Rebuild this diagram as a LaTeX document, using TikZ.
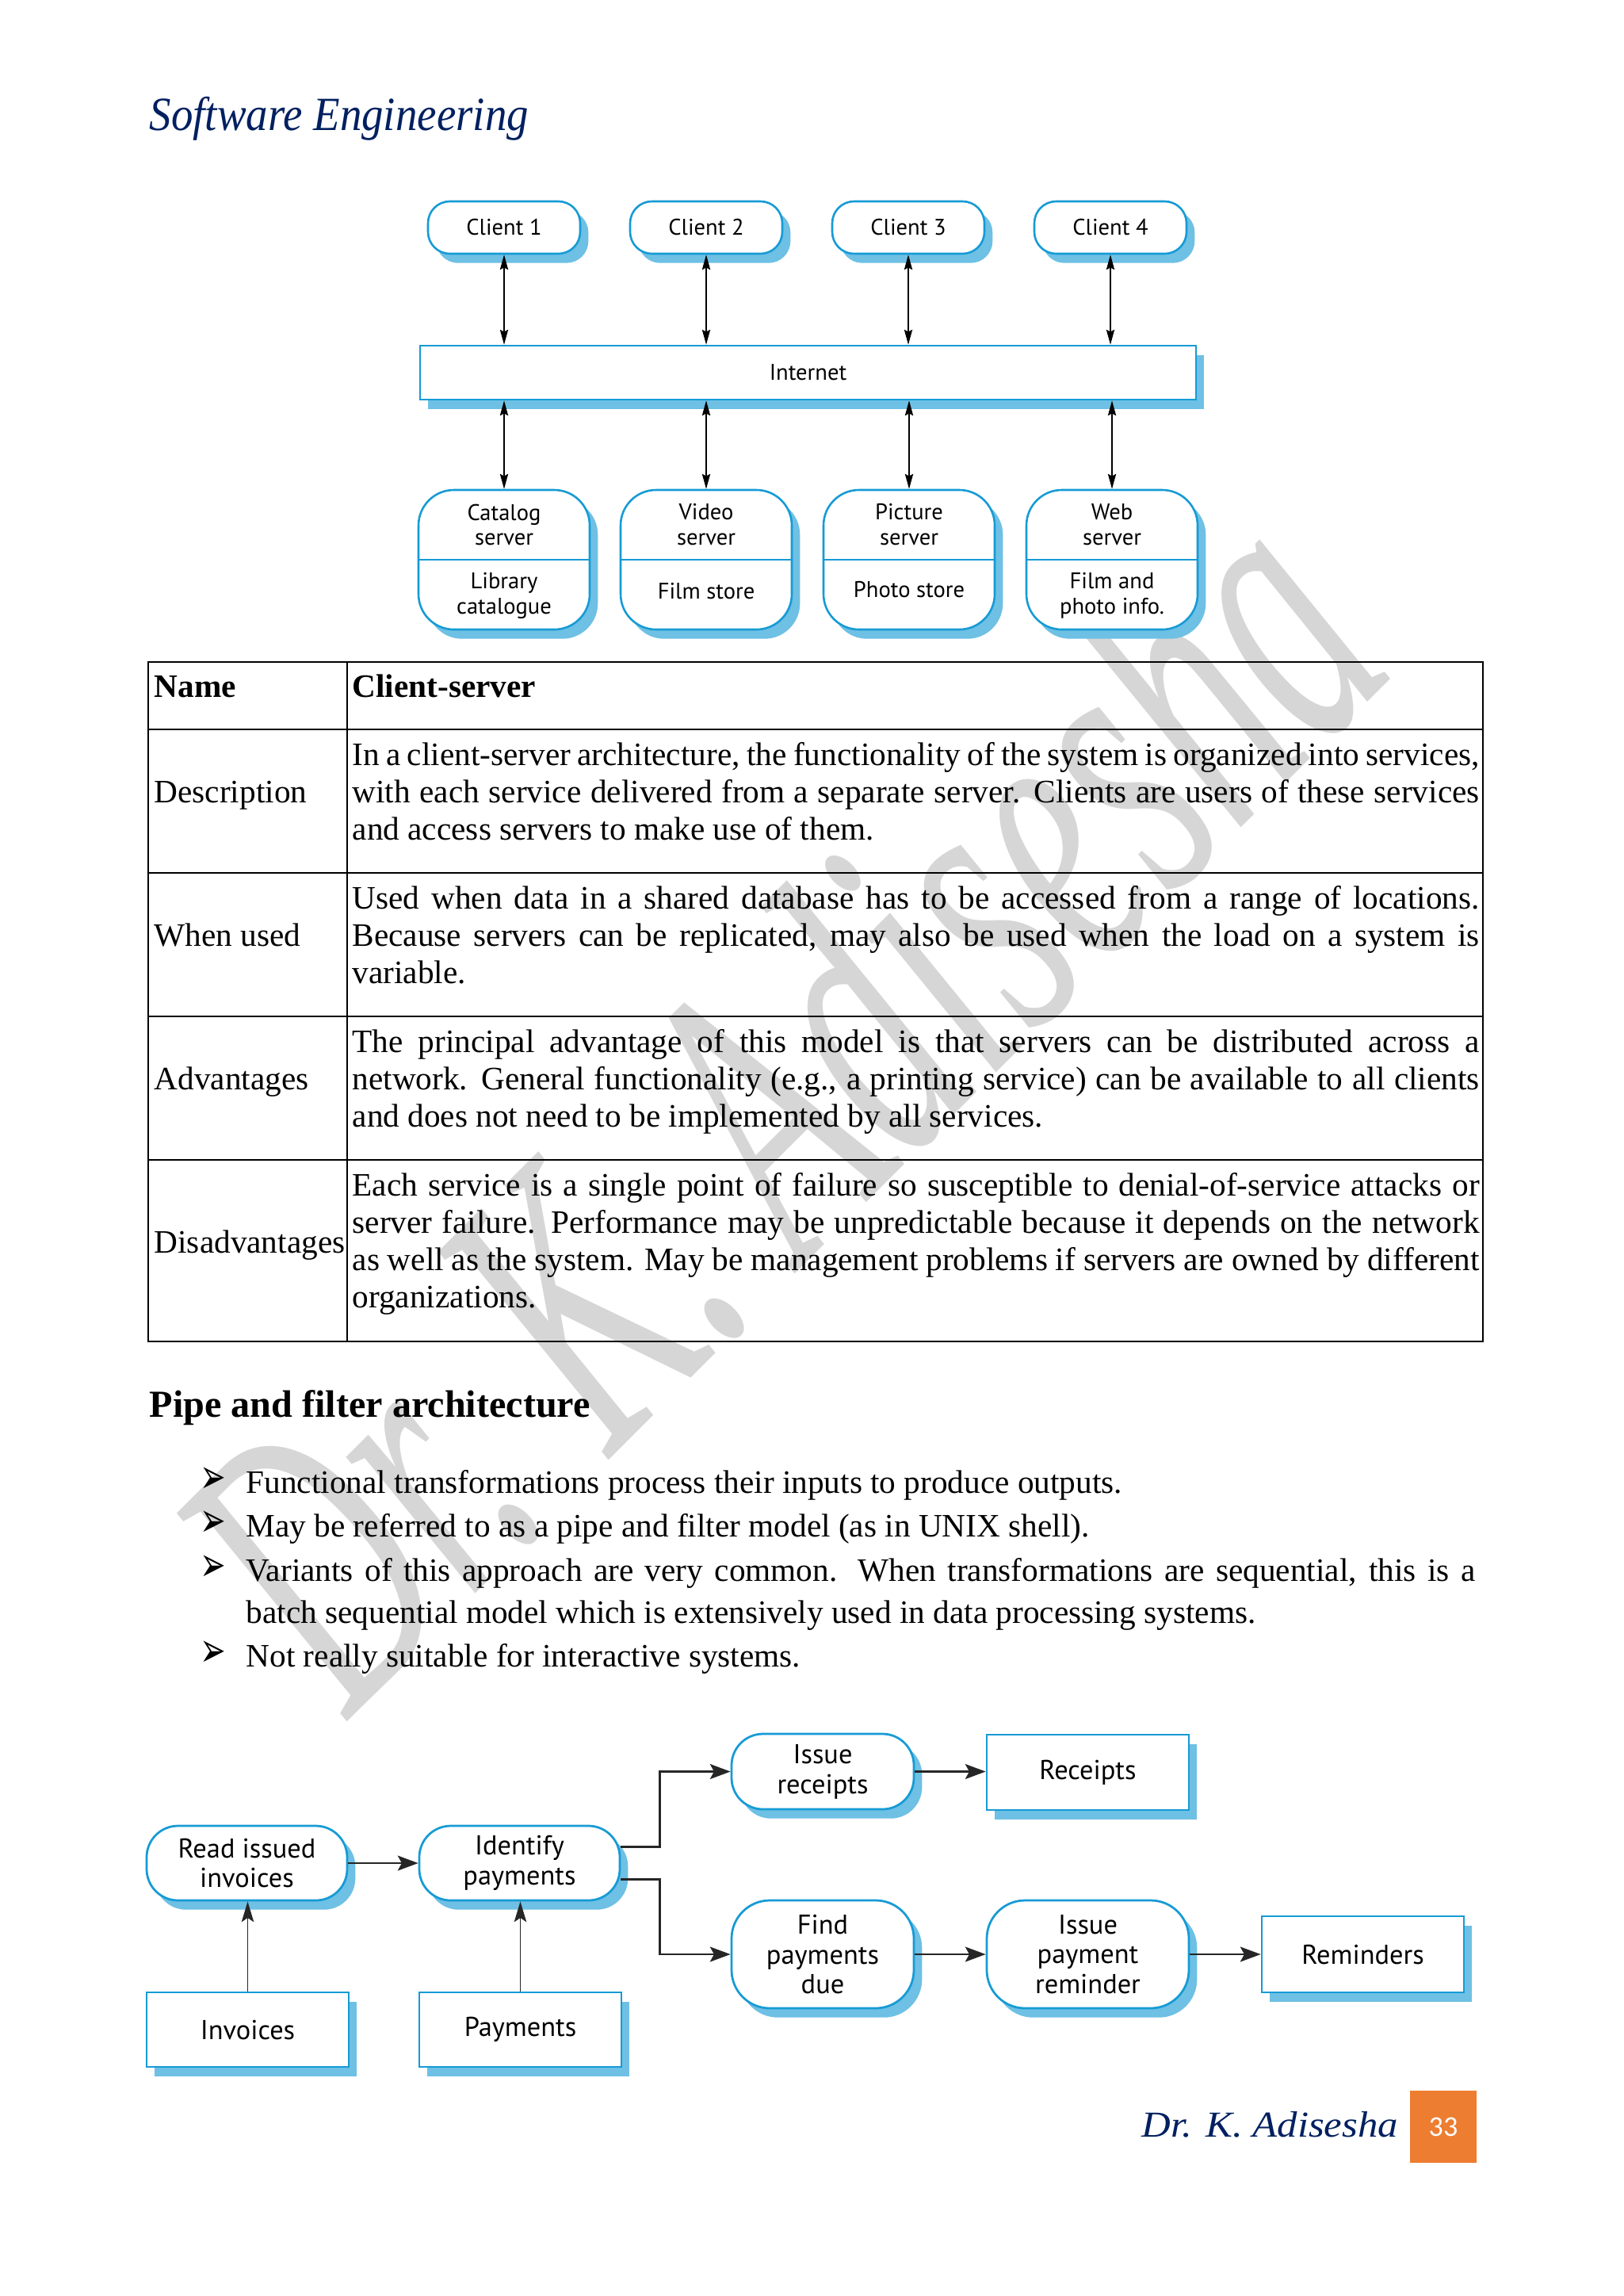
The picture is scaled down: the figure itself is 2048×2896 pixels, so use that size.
\documentclass[tikz,border=0pt]{standalone}
\usepackage{fontspec}
\setmainfont{Liberation Serif}
\newfontfamily\dgsans{PT Sans}
\newfontfamily\calfont{Carlito}
\newfontfamily\symfont{DejaVu Sans}
\usetikzlibrary{shadows,arrows.meta,calc}
\definecolor{bordc}{RGB}{22,155,213}
\definecolor{shadc}{RGB}{110,192,228}
\definecolor{navy}{RGB}{0,32,96}
\definecolor{orng}{RGB}{237,125,49}
\newcommand\PX{0.290664pt}
\newcommand\jus[1]{\hbox to 413.3pt{#1}}
\newcommand\jusb[1]{\hbox to 450.8pt{#1}}
\newcommand\bulletglyph{\resizebox*{9.5pt}{9.5pt}{\symfont ➢}}
\tikzset{
  shd/.style={drop shadow={shadow xshift=3pt, shadow yshift=-3.4pt, fill=shadc, opacity=1}},
  cli/.style={shd, draw=bordc, line width=0.75pt, fill=white, rounded corners=8pt,
    minimum width=192*\PX, minimum height=66*\PX, inner sep=0pt,
    font=\dgsans\fontsize{8.3}{9.4}\selectfont},
  inet/.style={shd, draw=bordc, line width=0.75pt, fill=white,
    minimum width=979*\PX, minimum height=68*\PX, inner sep=0pt,
    font=\dgsans\fontsize{8.3}{9.4}\selectfont},
  srv/.style={shd, draw=bordc, line width=0.75pt, fill=white, rounded corners=13pt,
    minimum width=216*\PX, minimum height=176*\PX, inner sep=0pt},
  divl/.style={draw=bordc, line width=0.5pt},
  stxt/.style={align=center, inner sep=0pt, font=\dgsans\fontsize{8.3}{9.3}\selectfont},
  csarr/.style={{Stealth[length=5.5pt,width=3pt,inset=0.8pt]}-{Stealth[length=5.5pt,width=3pt,inset=0.8pt]}, line width=0.35pt},
  pr/.style={shd, draw=bordc, line width=0.8pt, fill=white, rounded corners=11.5pt,
    align=center, inner sep=0pt, font=\dgsans\fontsize{10}{11}\selectfont},
  pb/.style={shd, draw=bordc, line width=0.8pt, fill=white,
    align=center, inner sep=0pt, font=\dgsans\fontsize{10}{11}\selectfont},
  pfa/.style={-{Stealth[length=7.5pt,width=5.5pt,inset=1.5pt]}, line width=0.7pt, draw=black!85},
  pfv/.style={-{Stealth[length=7.5pt,width=4.5pt,inset=1.5pt]}, line width=0.45pt, draw=black!85},
  tbl/.style={line width=0.8pt, draw=black},
  tx/.style={anchor=base west, inner sep=0pt, font=\fontsize{12}{14}\selectfont},
  txb/.style={anchor=base west, inner sep=0pt, font=\fontsize{12}{14}\selectfont\bfseries},
  bul/.style={anchor=base west, inner sep=0pt},
}
\begin{document}
\begin{tikzpicture}[x=0.290664pt, y=-0.290664pt]
\useasboundingbox (0,0) rectangle (2048,2896);
\fill[white] (0,0) rectangle (2048,2896);

% watermark
\node[anchor=base west, rotate=45, text=black!16, inner sep=0pt] (wm) at (440,2170)
  {\resizebox{545pt}{104pt}{\itshape Dr. K. Adisesha}};

% header
\node[anchor=base west, inner sep=0pt, text=navy] (hdr) at (188,164)
  {\resizebox{139pt}{12.3pt}{\itshape Software Engineering}};

% client-server diagram
\node[cli] (c1) at (636,287) {Client 1};
\node[cli] (c2) at (891,287) {Client 2};
\node[cli] (c3) at (1146,287) {Client 3};
\node[cli] (c4) at (1401,287) {Client 4};
\node[inet] (inet) at (1019.5,470) {Internet};

\node[srv] (s1) at (636,706) {};
\node[srv] (s2) at (891,706) {};
\node[srv] (s3) at (1147,706) {};
\node[srv] (s4) at (1403,706) {};
\draw[divl] (s1.west) -- (s1.east);
\draw[divl] (s2.west) -- (s2.east);
\draw[divl] (s3.west) -- (s3.east);
\draw[divl] (s4.west) -- (s4.east);
\node[stxt] (s1t) at (636,662) {Catalog\\server};
\node[stxt] (s1b) at (636,751) {Library\\catalogue};
\node[stxt] (s2t) at (891,662) {Video\\server};
\node[stxt] (s2b) at (891,746) {Film store};
\node[stxt] (s3t) at (1147,662) {Picture\\server};
\node[stxt] (s3b) at (1147,744) {Photo store};
\node[stxt] (s4t) at (1403,662) {Web\\server};
\node[stxt] (s4b) at (1403,751) {Film and\\photo info.};

\foreach \c in {c1,c2,c3,c4} {
  \draw[csarr] (\c.south) -- (\c.south |- inet.north);
}
\foreach \s in {s1,s2,s3,s4} {
  \draw[csarr] (\s.north |- inet.south) -- (\s.north);
}

% table
\draw[tbl] (187,835) rectangle (1871,1692);
\draw[tbl] (438,835) -- (438,1692);
\draw[tbl] (187,920) -- (1871,920);
\draw[tbl] (187,1101) -- (1871,1101);
\draw[tbl] (187,1282) -- (1871,1282);
\draw[tbl] (187,1463) -- (1871,1463);

\node[txb] (tn1) at (194,879) {Name};
\node[txb] (tn2) at (444,879) {Client-server};

\node[tx] (l1) at (194,1012) {Description};
\node[tx] (d1) at (444,965) {\jus{In a client-server architecture, the functionality of the system is organized into services,}};
\node[tx] (d2) at (444,1012) {\jus{with each service delivered from a separate server. Clients are users of these services}};
\node[tx] (d3) at (444,1059) {and access servers to make use of them.};

\node[tx] (l2) at (194,1193) {When used};
\node[tx] (w1) at (444,1146) {\jus{Used when data in a shared database has to be accessed from a range of locations.}};
\node[tx] (w2) at (444,1193) {\jus{Because servers can be replicated, may also be used when the load on a system is}};
\node[tx] (w3) at (444,1240) {variable.};

\node[tx] (l3) at (194,1374) {Advantages};
\node[tx] (a1) at (444,1327) {\jus{The principal advantage of this model is that servers can be distributed across a}};
\node[tx] (a2) at (444,1374) {\jus{network. General functionality (e.g., a printing service) can be available to all clients}};
\node[tx] (a3) at (444,1421) {and does not need to be implemented by all services.};

\node[tx] (l4) at (194,1580) {Disadvantages};
\node[tx] (x1) at (444,1508) {\jus{Each service is a single point of failure so susceptible to denial-of-service attacks or}};
\node[tx] (x2) at (444,1555) {\jus{server failure. Performance may be unpredictable because it depends on the network}};
\node[tx] (x3) at (444,1602) {\jus{as well as the system. May be management problems if servers are owned by different}};
\node[tx] (x4) at (444,1649) {organizations.};

% heading and bullets
\node[anchor=base west, inner sep=0pt, font=\fontsize{14}{16}\selectfont\bfseries] (h2) at (188,1787) {Pipe and filter architecture};

\node[bul] (b1) at (252,1883) {\bulletglyph};
\node[bul] (b2) at (252,1938) {\bulletglyph};
\node[bul] (b3) at (252,1994) {\bulletglyph};
\node[bul] (b4) at (252,2102) {\bulletglyph};
\node[tx] (p1) at (310,1883) {Functional transformations process their inputs to produce outputs.};
\node[tx] (p2) at (310,1938) {May be referred to as a pipe and filter model (as in UNIX shell).};
\node[tx] (p3) at (310,1994) {\jusb{Variants of this approach are very common. When transformations are sequential, this is a}};
\node[tx] (p3b) at (310,2047) {batch sequential model which is extensively used in data processing systems.};
\node[tx] (p4) at (310,2102) {Not really suitable for interactive systems.};

% pipe and filter diagram
\node[pr, minimum width=253*\PX, minimum height=94*\PX] (rii) at (311.5,2350) {Read issued\\invoices};
\node[pr, minimum width=253*\PX, minimum height=94*\PX] (ip) at (655.5,2350) {Identify\\payments};
\node[pr, minimum width=230*\PX, minimum height=95*\PX] (ir) at (1038,2234.5) {Issue\\receipts};
\node[pb, minimum width=255*\PX, minimum height=95*\PX] (rec) at (1372.5,2235.5) {Receipts};
\node[pr, minimum width=230*\PX, minimum height=136*\PX, rounded corners=14pt] (fpd) at (1038,2465) {Find\\payments\\due};
\node[pr, minimum width=255*\PX, minimum height=136*\PX, rounded corners=14pt] (ipr) at (1372.5,2465) {Issue\\payment\\reminder};
\node[pb, minimum width=255*\PX, minimum height=96*\PX] (rem) at (1719.5,2465) {Reminders};
\node[pb, minimum width=255*\PX, minimum height=94*\PX] (inv) at (312.5,2560) {Invoices};
\node[pb, minimum width=255*\PX, minimum height=94*\PX] (pay) at (656.5,2560) {Payments};

\draw[pfa] (rii.east) -- (ip.west);
\draw[pfv] (inv.north) -- (inv.north |- rii.south);
\draw[pfv] (pay.north) -- (pay.north |- ip.south);
\draw[pfa] ([yshift=6pt]ip.east) -- ++(49,0) |- (ir.west);
\draw[pfa] ([yshift=-6pt]ip.east) -- ++(49,0) |- (fpd.west);
\draw[pfa] (ir.east) -- (ir.east -| rec.west);
\draw[pfa] (fpd.east) -- (ipr.west);
\draw[pfa] (ipr.east) -- (rem.west);

% footer
\node[anchor=base west, inner sep=0pt, text=navy] (ftr) at (1440,2695)
  {\resizebox{94pt}{9.3pt}{\itshape Dr. K. Adisesha}};
\node[fill=orng, minimum width=84*\PX, minimum height=91*\PX, inner sep=0pt, text=white,
  font=\calfont\fontsize{10.5}{12}\selectfont] (pg) at (1821,2682.5) {33};
\end{tikzpicture}
\end{document}
